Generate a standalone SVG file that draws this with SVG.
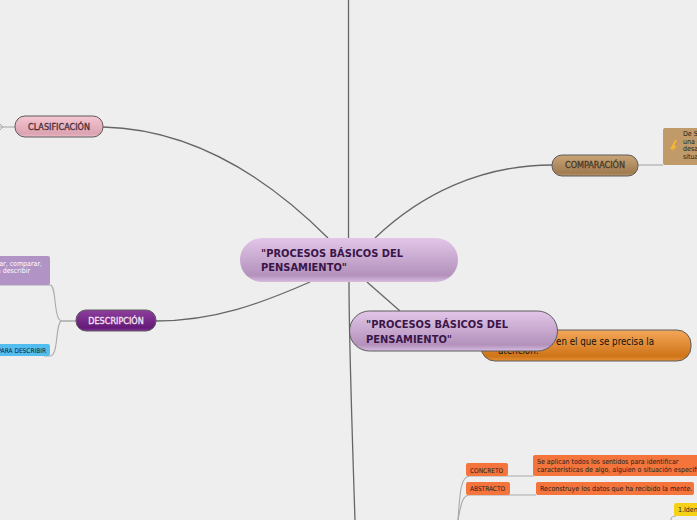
<svg xmlns="http://www.w3.org/2000/svg" width="697" height="520" viewBox="0 0 697 520">
<defs>
<linearGradient id="gCentral" x1="0" y1="0" x2="0" y2="1"><stop offset="0" stop-color="#e2c6e8"/><stop offset="0.85" stop-color="#b391bb"/><stop offset="1" stop-color="#d8bde0"/></linearGradient>
<linearGradient id="gPink" x1="0" y1="0" x2="0" y2="1"><stop offset="0" stop-color="#f5c6d2"/><stop offset="0.85" stop-color="#dca3b2"/><stop offset="1" stop-color="#eebccb"/></linearGradient>
<linearGradient id="gPurple" x1="0" y1="0" x2="0" y2="1"><stop offset="0" stop-color="#8e3f9e"/><stop offset="0.85" stop-color="#651a78"/><stop offset="1" stop-color="#83329a"/></linearGradient>
<linearGradient id="gBrown" x1="0" y1="0" x2="0" y2="1"><stop offset="0" stop-color="#c9a477"/><stop offset="0.85" stop-color="#a17c50"/><stop offset="1" stop-color="#b8946a"/></linearGradient>
<linearGradient id="gOrange" x1="0" y1="0" x2="0" y2="1"><stop offset="0" stop-color="#f4a75a"/><stop offset="0.85" stop-color="#cf7418"/><stop offset="1" stop-color="#e89238"/></linearGradient>
</defs>
<style>
text{font-family:"DejaVu Sans Condensed","DejaVu Sans",sans-serif}
.main{font-size:11px;font-weight:700;fill:#3a1548}
.sub{font-size:9px;font-weight:400;stroke-width:.3px}
.small{font-size:7px;fill:#222}
.edge{fill:none;stroke:#666;stroke-width:1.3}
.thin{fill:none;stroke:#aaa;stroke-width:1.1}
.frame{stroke:#5c5c5c;stroke-width:1}
</style>
<rect width="697" height="520" fill="#eeeeee"/>
<g id="connectors">
<path class="edge" d="M348.500 0V238"/>
<path class="edge" d="M349 282C349 330 351 400 355 520"/>
<path class="edge" d="M103 127C190 129 265 175 328 238"/>
<path class="edge" d="M552 165C480 165 420 195 375 238"/>
<path class="edge" d="M156 321C215 321 262 303 310 282"/>
<path class="edge" d="M367 282L400 311"/>
<path class="thin" d="M0 127H15"/>
<path class="thin" d="M638 165H663"/>
<path class="thin" d="M76 321H62C53 321 57 285 50 285H0"/>
<path class="thin" d="M76 321H62C55 321 59 356 50 356H44"/>
<path class="thin" d="M458 520C460 490 461 476 470 476H534"/>
<path class="thin" d="M458 520C461 505 462 495 470 495H536"/>
<path class="thin" d="M671 520C671 517 672 516 676 516"/>
</g>
<g id="node-clasificacion">
<path d="M0 124L3 127L0 130" fill="none" stroke="#aaa"/>
<rect class="frame" x="15" y="116" width="88" height="21" rx="10" fill="url(#gPink)"/>
<text class="sub" x="59" y="130" text-anchor="middle" fill="#4a3038" stroke="#4a3038">CLASIFICACIÓN</text>
</g>
<g id="node-descripcion">
<rect class="frame" x="76" y="310" width="80" height="21" rx="10" fill="url(#gPurple)"/>
<text class="sub" x="116" y="324" text-anchor="middle" fill="#f3e6f6" stroke="#f3e6f6">DESCRIPCIÓN</text>
</g>
<g id="node-descripcion-texto">
<rect x="-6" y="256" width="56" height="29" rx="2" fill="#b193c6"/>
<text class="small" x="42" y="266" text-anchor="end" style="fill:#fff">rar, comparar,</text>
<text class="small" x="30" y="273" text-anchor="end" style="fill:#fff">a describir</text>
</g>
<g id="node-para-describir">
<rect x="-6" y="344" width="56" height="12" rx="2" fill="#53bdf0"/>
<text x="46" y="352.500" text-anchor="end" font-size="6.500" fill="#123">PARA DESCRIBIR</text>
</g>
<g id="node-comparacion">
<rect class="frame" x="552" y="155" width="86" height="21" rx="10" fill="url(#gBrown)"/>
<text class="sub" x="595" y="168" text-anchor="middle" fill="#4a3a28" stroke="#4a3a28">COMPARACIÓN</text>
</g>
<g id="node-comparacion-texto">
<rect x="663" y="128" width="40" height="37" rx="2" fill="#c09a68"/>
<path d="M675 140L670 149H673L671 152L677 146H674L677 140Z" fill="#f5b535"/>
<text class="small" x="683" y="136">De S</text>
<text class="small" x="683" y="144">una c</text>
<text class="small" x="683" y="151">desa</text>
<text class="small" x="683" y="159">situa</text>
</g>
<g id="node-orange">
<rect class="frame" x="481" y="330" width="210" height="31" rx="14" fill="url(#gOrange)"/>
<text x="654" y="345" font-size="9.700" text-anchor="end" fill="#111">l en el que se precisa la</text>
<text x="498" y="354" font-size="9.700" fill="#111">atención:</text>
</g>
<g id="node-central">
<rect x="240" y="238" width="218" height="44" rx="22" fill="url(#gCentral)"/>
<text class="main" x="261" y="257">"PROCESOS BÁSICOS DEL</text>
<text class="main" x="261" y="271">PENSAMIENTO"</text>
</g>
<g id="node-central-copia">
<rect class="frame" x="349.500" y="311" width="208" height="40" rx="20" fill="url(#gCentral)"/>
<text class="main" x="366" y="328">"PROCESOS BÁSICOS DEL</text>
<text class="main" x="366" y="343">PENSAMIENTO"</text>
</g>
<g id="node-concreto">
<rect x="466" y="463" width="42" height="13" rx="2" fill="#f4743b"/>
<text x="470" y="472.500" font-size="6.500" fill="#222">CONCRETO</text>
</g>
<g id="node-concreto-texto">
<rect x="533" y="455" width="170" height="21" rx="2" fill="#f4743b"/>
<text class="small" x="537" y="464">Se aplican todos los sentidos para identificar</text>
<text class="small" x="537" y="472">características de algo, alguien o situación específica</text>
</g>
<g id="node-abstracto">
<rect x="466" y="482" width="44" height="13" rx="2" fill="#f4743b"/>
<text x="470" y="491" font-size="6.500" fill="#222">ABSTRACTO</text>
</g>
<g id="node-abstracto-texto">
<rect x="536" y="482" width="158" height="13" rx="2" fill="#f4743b"/>
<text class="small" x="540" y="491">Reconstruye los datos que ha recibido la mente.</text>
</g>
<g id="node-identificar">
<rect x="674" y="503" width="30" height="13" rx="2" fill="#f7d117"/>
<text class="small" x="678" y="512">1.Iden</text>
</g>
</svg>
